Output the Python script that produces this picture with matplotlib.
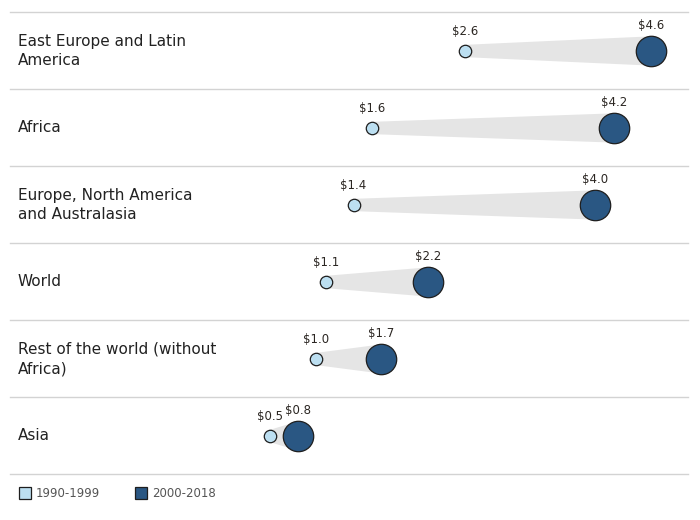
import numpy as np
import matplotlib
matplotlib.use("Agg")
import matplotlib.pyplot as plt
from matplotlib.lines import Line2D
from matplotlib.transforms import blended_transform_factory

regions = ["East Europe and Latin\nAmerica", "Africa", "Europe, North America\nand Australasia",
           "World", "Rest of the world (without\nAfrica)", "Asia"]
val_1990s = [2.6, 1.6, 1.4, 1.1, 1.0, 0.5]
val_2000s = [4.6, 4.2, 4.0, 2.2, 1.7, 0.8]
legend_labels = ["1990-1999", "2000-2018"]

LIGHT = "#bcdff1"
DARK = "#2a5783"
EDGE = "#1e1e1e"
WEDGE = "#e5e5e5"
RULE = "#d3d3d3"

plt.rcParams["font.family"] = ["DejaVu Sans"]

fig = plt.figure(figsize=(7, 5.2), dpi=100)
ax = fig.add_axes([0, 0, 1, 1])
ax.set_xlim(-2.406, 5.129)
ax.set_ylim(6.091, -0.662)
ax.axis("off")

y = np.arange(len(regions))
h_small, h_big = 0.08, 0.19

for i, (a, b) in enumerate(zip(val_1990s, val_2000s)):
    ax.fill([a, b, b, a], [i - h_small, i - h_big, i + h_big, i + h_small],
            color=WEDGE, lw=0, zorder=1)
    ax.annotate(f"${a:.1f}", (a, i), xytext=(0, 9), textcoords="offset points",
                ha="center", va="bottom", fontsize=8.5, color="#2b2622")
    ax.annotate(f"${b:.1f}", (b, i), xytext=(0, 14), textcoords="offset points",
                ha="center", va="bottom", fontsize=8.5, color="#2b2622")

ax.scatter(val_1990s, y, s=80, color=LIGHT, edgecolor=EDGE, lw=0.9, zorder=3)
ax.scatter(val_2000s, y, s=480, color=DARK, edgecolor=EDGE, lw=0.9, zorder=3)

trans = blended_transform_factory(ax.transAxes, ax.transData)
for i, name in enumerate(regions):
    ax.text(18 / 700, i, name, transform=trans, ha="left", va="center",
            fontsize=11, color="#222222", linespacing=1.35)
for k in range(len(regions) + 1):
    ax.plot([10 / 700, 688 / 700], [k - 0.5, k - 0.5], transform=trans,
            color=RULE, lw=1, zorder=0)

handles = [Line2D([], [], marker="s", ls="", ms=9, mfc=c, mec=EDGE, mew=0.9)
           for c in (LIGHT, DARK)]
ax.legend(handles, legend_labels, loc="lower left", bbox_to_anchor=(0.012, 0.018),
          ncol=2, frameon=False, fontsize=8.5, labelcolor="#555555",
          handletextpad=0.45, columnspacing=2.9, handlelength=1.0)

fig.savefig("out.png", dpi=100)
